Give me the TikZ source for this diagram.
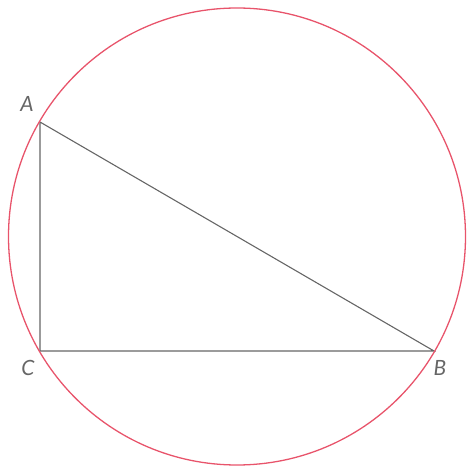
\documentclass[tikz,border=0pt]{standalone}
\usepackage{fontspec}
\setmainfont{Lato}
\usepackage{tikz}

\definecolor{circred}{HTML}{E8546B}
\definecolor{trigray}{HTML}{666666}

\begin{document}
\begin{tikzpicture}[x=1pt,y=1pt,
		lbl/.style={text=trigray,font=\fontsize{21}{21}\selectfont\itshape}]
		\useasboundingbox (0,0) rectangle (474,474);
		\coordinate (A) at (40,352);
		\coordinate (C) at (40,123);
		\coordinate (B) at (434,123);
		\coordinate (O) at (237,237.5);
		\draw[trigray,line width=1.1pt] (A)--(B)--(C)--cycle;
		\draw[circred,line width=1.3pt] (O) circle (228.5);
		\node[lbl] (a) at (27,370){A};
		\node[lbl] (c) at (28,106){C};
		\node[lbl] (b) at (440,106){B};
	\end{tikzpicture}
\end{document}
